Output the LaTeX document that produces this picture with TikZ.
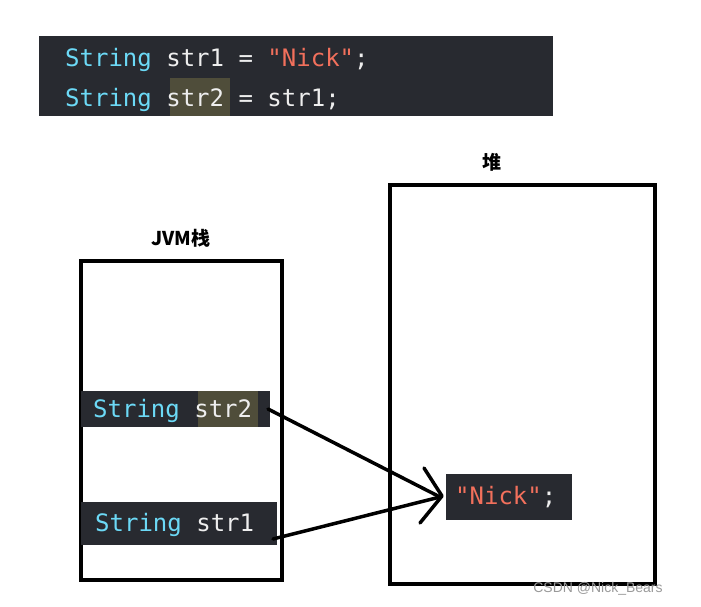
\documentclass[tikz,border=0pt]{standalone}
\usepackage{fontspec}
\newfontfamily\codefont{DejaVu Sans Mono}
\newfontfamily\cjk{Noto Sans CJK SC}
\newfontfamily\wm{Liberation Sans}
\definecolor{codebg}{HTML}{282A30}
\definecolor{kw}{HTML}{6CD9F6}
\definecolor{strc}{HTML}{F2705C}
\definecolor{txt}{HTML}{EEEEEE}
\definecolor{hl}{HTML}{4F4D3A}
\begin{document}
\begin{tikzpicture}[x=1pt,y=-1pt,
  code/.style={anchor=west,inner sep=0pt,font=\codefont\fontsize{24}{24}\selectfont},
  bg/.style={fill=codebg,draw=none},
  mem/.style={draw=black,line width=3.5pt},
  lbl/.style={font=\cjk\bfseries\fontsize{19}{19}\selectfont},
  ptr/.style={line width=3.5pt,line cap=round,line join=round}]
\useasboundingbox (0,0) rectangle (701,607);
% top code
\fill[codebg] (39,36) rectangle (553,116);
\fill[hl] (170,78) rectangle (230,116);
\node[code] (l1) at (65,60) {\textcolor{kw}{String} \textcolor{txt}{str1 =} \textcolor{strc}{"Nick"}\textcolor{txt}{;}};
\node[code] (l2) at (65,100) {\textcolor{kw}{String} \textcolor{txt}{str2 = str1;}};
% labels
\node[lbl] (jvm) at (181,238) {JVM栈};
\node[lbl] (heap) at (492,162) {堆};
% boxes
\draw[mem] (81,261) rectangle (282,580);
\draw[mem] (390,185) rectangle (655,584);
% stack entries
\fill[codebg] (81,391) rectangle (270,427);
\fill[hl] (198,391) rectangle (258,427);
\node[code] (s2) at (93,411) {\textcolor{kw}{String} \textcolor{txt}{str2}};
\fill[codebg] (81,502) rectangle (277,545);
\node[code] (s1) at (95,525) {\textcolor{kw}{String} \textcolor{txt}{str1}};
% heap entry
\fill[codebg] (446,474) rectangle (572,520);
\node[code] (nick) at (455,497) {\textcolor{strc}{"Nick"}\textcolor{txt}{;}};
% arrows
\coordinate (p2) at (268,409);
\coordinate (p1) at (273,539);
\coordinate (tip) at (440,497);
\draw[ptr] (p2) -- (tip);
\draw[ptr] (p1) -- (tip);
\draw[ptr] (424,468) -- (442,496) -- (420,523);
\node[font=\wm\fontsize{14}{14}\selectfont,text=gray!80] (w) at (598,589) {CSDN @Nick\_Bears};
\end{tikzpicture}
\end{document}
